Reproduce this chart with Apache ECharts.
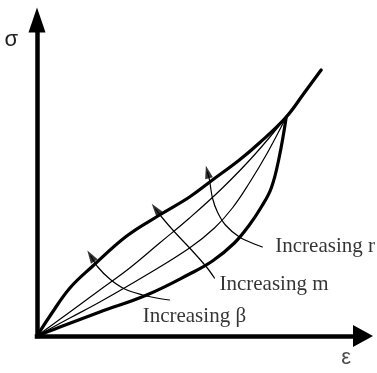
<!DOCTYPE html>
<html>
<head>
<meta charset="utf-8">
<script src="https://cdn.jsdelivr.net/npm/echarts@6.0.0/dist/echarts.min.js"></script>
<style>
html,body{margin:0;padding:0;background:#fff;}
#chart{width:377px;height:373px;}
</style>
</head>
<body>
<div id="chart"></div>
<script>
// Curves (ε, σ) in arbitrary units
const upperCurve = [[0,0],[13,20],[33,48],[56,70],[90,100],[123,121],[153,139],[176,156],[203,176],[223,193],[250,219],[268,243],[285,266]];
const thinCurve1 = [[0,0],[33,24],[63,46],[93,68],[123,93],[153,118],[186,148],[218,181],[250,219]];
const thinCurve2 = [[0,0],[33,18],[63,34],[108,60],[153,88],[178,108],[196,128],[213,153],[231,183],[250,219]];
const lowerCurve = [[0,0],[23,9],[63,24],[110,41],[153,62],[176,75],[198,93],[213,111],[225,129],[235,148],[243,179],[250,219]];
// "Increasing" arcs (first point = arrow head)
const arcBeta = [[54,80],[61,69],[73,57],[88,47],[106,41],[120,38],[133,36]];
const arcM = [[119,127],[125,119],[138,104],[155,86],[170,69],[178,58]];
const arcR = [[171,164],[173,156],[176,138],[181,124],[189,111],[203,99],[218,92],[226,89]];
// Annotation texts and anchor points
const labelTexts = ['Increasing r','Increasing m','Increasing β'];
const labelAnchors = [[239,90],[183,52],[106,20]];
const yName = 'σ';
const xName = 'ε';
const xNameAnchor = [310,-22];
const xMax = 327, yMax = 316;

const arcs = [arcBeta, arcM, arcR];
function arrowRot(arc){
  const dx = arc[0][0]-arc[1][0], dy = arc[0][1]-arc[1][1];
  return Math.atan2(-dx, dy)*180/Math.PI;
}
const thick = 3.2, thin = 1.2;
function lineSeries(data, w, sm){
  return {type:'line', data:data, symbol:'none', smooth:sm, silent:true,
    lineStyle:{color:'#000', width:w, cap:'round', join:'round'}, z:3};
}
const series = [
  lineSeries(upperCurve, thick, 0.4),
  lineSeries(thinCurve1, thin, 0.4),
  lineSeries(thinCurve2, thin, 0.4),
  lineSeries(lowerCurve, thick, 0.4),
];
arcs.forEach(a => series.push(lineSeries(a, thin, 0.35)));
series.push({
  type:'scatter', symbol:'triangle', symbolSize:[8,13], silent:true, z:5,
  itemStyle:{color:'#000'},
  data: arcs.map(a => ({value:a[0], symbolRotate: arrowRot(a)}))
});
series.push({
  type:'scatter', symbolSize:0, silent:true, z:6,
  data: labelAnchors.map((p,i)=>({value:p, name:labelTexts[i]})),
  label:{show:true, position:'right', distance:0, formatter:'{b}',
    color:'#000', fontFamily:'Liberation Serif', fontSize:21}
});
series.push({
  type:'scatter', symbolSize:0, silent:true, z:6, clip:false,
  data:[{value:xNameAnchor, name:xName}],
  label:{show:true, position:'inside', formatter:'{b}',
    color:'#222', fontFamily:'Liberation Sans', fontSize:22}
});

const chart = echarts.init(document.getElementById('chart'), null, {renderer:'canvas'});
chart.setOption({
  animation:false,
  backgroundColor:'#fff',
  grid:{left:37, right:14, top:20, bottom:37},
  xAxis:{type:'value', min:0, max:xMax,
    axisLine:{show:true, onZero:false, symbol:['none','triangle'], symbolSize:[22,20],
      lineStyle:{color:'#000', width:4.5, cap:'square'}},
    axisTick:{show:false}, axisLabel:{show:false}, splitLine:{show:false}
  },
  yAxis:{type:'value', min:0, max:yMax,
    axisLine:{show:true, onZero:false, symbol:['none','triangle'], symbolSize:[17,25],
      lineStyle:{color:'#000', width:4.5, cap:'square'}},
    axisTick:{show:false}, axisLabel:{show:false}, splitLine:{show:false},
    name:yName, nameLocation:'end', nameGap:-20,
    nameTextStyle:{fontFamily:'Liberation Sans', fontSize:22, color:'#222', align:'right', verticalAlign:'middle', padding:[0,19,0,0]}
  },
  series:series
});
</script>
</body>
</html>
